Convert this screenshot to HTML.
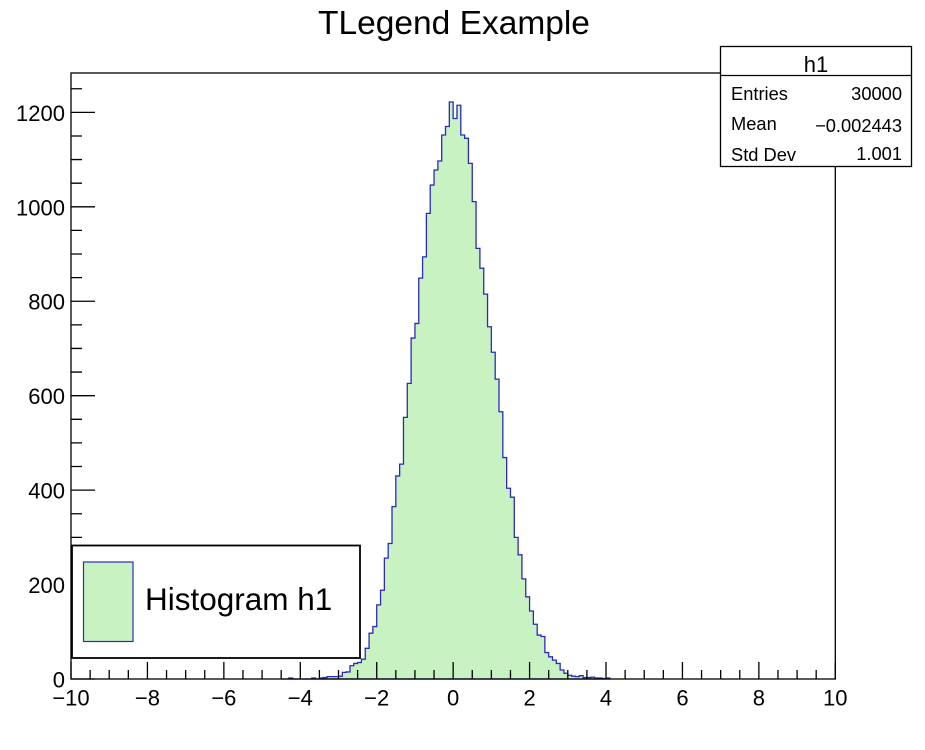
<!DOCTYPE html>
<html>
<head>
<meta charset="utf-8">
<style>
html,body{margin:0;padding:0;background:#fff;}
svg{display:block;font-family:"Liberation Sans",Helvetica,Arial,sans-serif;}
</style>
</head>
<body>
<svg width="925" height="750" viewBox="0 0 925 750" xmlns="http://www.w3.org/2000/svg">
<rect x="0" y="0" width="925" height="750" fill="#fff"/>

<!-- title -->
<text x="454" y="34" font-size="33.5" text-anchor="middle" fill="#000">TLegend Example</text>

<!-- histogram -->
<g transform="translate(453.15 679) scale(38.215 -0.4722)">
<path fill="#c8f2c2" stroke="#2b2bb8" stroke-width="1.3" vector-effect="non-scaling-stroke" stroke-linejoin="miter"
d="M-4.5 0 H-4.3 V2 H-4.2 V0 H-3.7 V2 H-3.6 V0 H-3.5 V2 H-3.4 V3 H-3.3 V5 H-3.0 V6 H-2.9 V14 H-2.8 V15 H-2.7 V28 H-2.6 V33 H-2.5 V35 H-2.4 V42 H-2.3 V65 H-2.2 V97 H-2.1 V111 H-2.0 V157 H-1.9 V188 H-1.8 V256 H-1.7 V287 H-1.6 V365 H-1.5 V430 H-1.4 V455 H-1.3 V554 H-1.2 V626 H-1.1 V722 H-1.0 V753 H-0.9 V849 H-0.8 V894 H-0.7 V986 H-0.6 V1046 H-0.5 V1078 H-0.4 V1097 H-0.3 V1152 H-0.2 V1170 H-0.1 V1222 H0 V1187 H0.1 V1215 H0.2 V1152 H0.3 V1145 H0.4 V1092 H0.5 V1011 H0.6 V912 H0.7 V870 H0.8 V815 H0.9 V746 H1.0 V692 H1.1 V635 H1.2 V566 H1.3 V469 H1.4 V404 H1.5 V385 H1.6 V300 H1.7 V263 H1.8 V212 H1.9 V174 H2.0 V144 H2.1 V116 H2.2 V93 H2.3 V90 H2.4 V56 H2.5 V47 H2.6 V40 H2.7 V33 H2.8 V19 H2.9 V12 H3.0 V8 H3.1 V6 H3.2 V5 H3.3 V7 H3.4 V3 H3.6 V4 H3.7 V2 H3.9 V1 H4.0 V2 H4.1 V0 Z"/>
</g>

<!-- frame -->
<rect x="71" y="73" width="764.3" height="606" fill="none" stroke="#000" stroke-width="1.3"/>

<!-- y ticks -->
<path stroke="#000" stroke-width="1.3" fill="none" d="
M71 679H95 M71 655.39H82 M71 631.78H82 M71 608.17H82
M71 584.56H95 M71 560.95H82 M71 537.34H82 M71 513.73H82
M71 490.12H95 M71 466.51H82 M71 442.9H82 M71 419.29H82
M71 395.68H95 M71 372.07H82 M71 348.46H82 M71 324.85H82
M71 301.24H95 M71 277.63H82 M71 254.02H82 M71 230.41H82
M71 206.8H95 M71 183.19H82 M71 159.58H82 M71 135.97H82
M71 112.36H95 M71 88.75H82"/>

<!-- x ticks -->
<path stroke="#000" stroke-width="1.3" fill="none" d="
M71 679V662 M90.11 679V670 M109.22 679V670 M128.32 679V670
M147.43 679V662 M166.54 679V670 M185.65 679V670 M204.75 679V670
M223.86 679V662 M242.97 679V670 M262.08 679V670 M281.18 679V670
M300.29 679V662 M319.4 679V670 M338.5 679V670 M357.61 679V670
M376.72 679V662 M395.83 679V670 M414.94 679V670 M434.04 679V670
M453.15 679V662 M472.26 679V670 M491.37 679V670 M510.47 679V670
M529.58 679V662 M548.69 679V670 M567.8 679V670 M586.9 679V670
M606.01 679V662 M625.12 679V670 M644.23 679V670 M663.33 679V670
M682.44 679V662 M701.55 679V670 M720.66 679V670 M739.76 679V670
M758.87 679V662 M777.98 679V670 M797.09 679V670 M816.19 679V670
M835.3 679V662"/>

<!-- y labels -->
<g font-size="22" text-anchor="end" fill="#000">
<text x="65" y="687.5">0</text>
<text x="65" y="593">200</text>
<text x="65" y="498.6">400</text>
<text x="65" y="404.2">600</text>
<text x="65" y="309.7">800</text>
<text x="65" y="215.3">1000</text>
<text x="65" y="120.9">1200</text>
</g>

<!-- x labels -->
<g font-size="22" text-anchor="middle" fill="#000">
<text x="71" y="705.5">−10</text>
<text x="147.43" y="705.5">−8</text>
<text x="223.86" y="705.5">−6</text>
<text x="300.29" y="705.5">−4</text>
<text x="376.72" y="705.5">−2</text>
<text x="453.15" y="705.5">0</text>
<text x="529.58" y="705.5">2</text>
<text x="606.01" y="705.5">4</text>
<text x="682.44" y="705.5">6</text>
<text x="758.87" y="705.5">8</text>
<text x="835.3" y="705.5">10</text>
</g>

<!-- legend -->
<rect x="72" y="545.5" width="288" height="112.5" fill="#fff" stroke="#000" stroke-width="1.8"/>
<rect x="83.5" y="562" width="49.5" height="79.5" fill="#c8f2c2" stroke="#2b2bb8" stroke-width="1.2"/>
<text x="145" y="610" font-size="31.5" fill="#000">Histogram h1</text>

<!-- stats box -->
<rect x="720.5" y="46.5" width="191" height="120" fill="#fff" stroke="#000" stroke-width="1.3"/>
<line x1="720.5" y1="75.5" x2="911.5" y2="75.5" stroke="#000" stroke-width="1.3"/>
<text x="816" y="72" font-size="22" text-anchor="middle" fill="#000">h1</text>
<g font-size="18.3" fill="#000">
<text x="731" y="100">Entries</text>
<text x="902" y="100" text-anchor="end">30000</text>
<text x="731" y="130">Mean</text>
<text x="902" y="132" text-anchor="end">−0.002443</text>
<text x="731" y="161">Std Dev</text>
<text x="902" y="160" text-anchor="end">1.001</text>
</g>
</svg>
</body>
</html>
